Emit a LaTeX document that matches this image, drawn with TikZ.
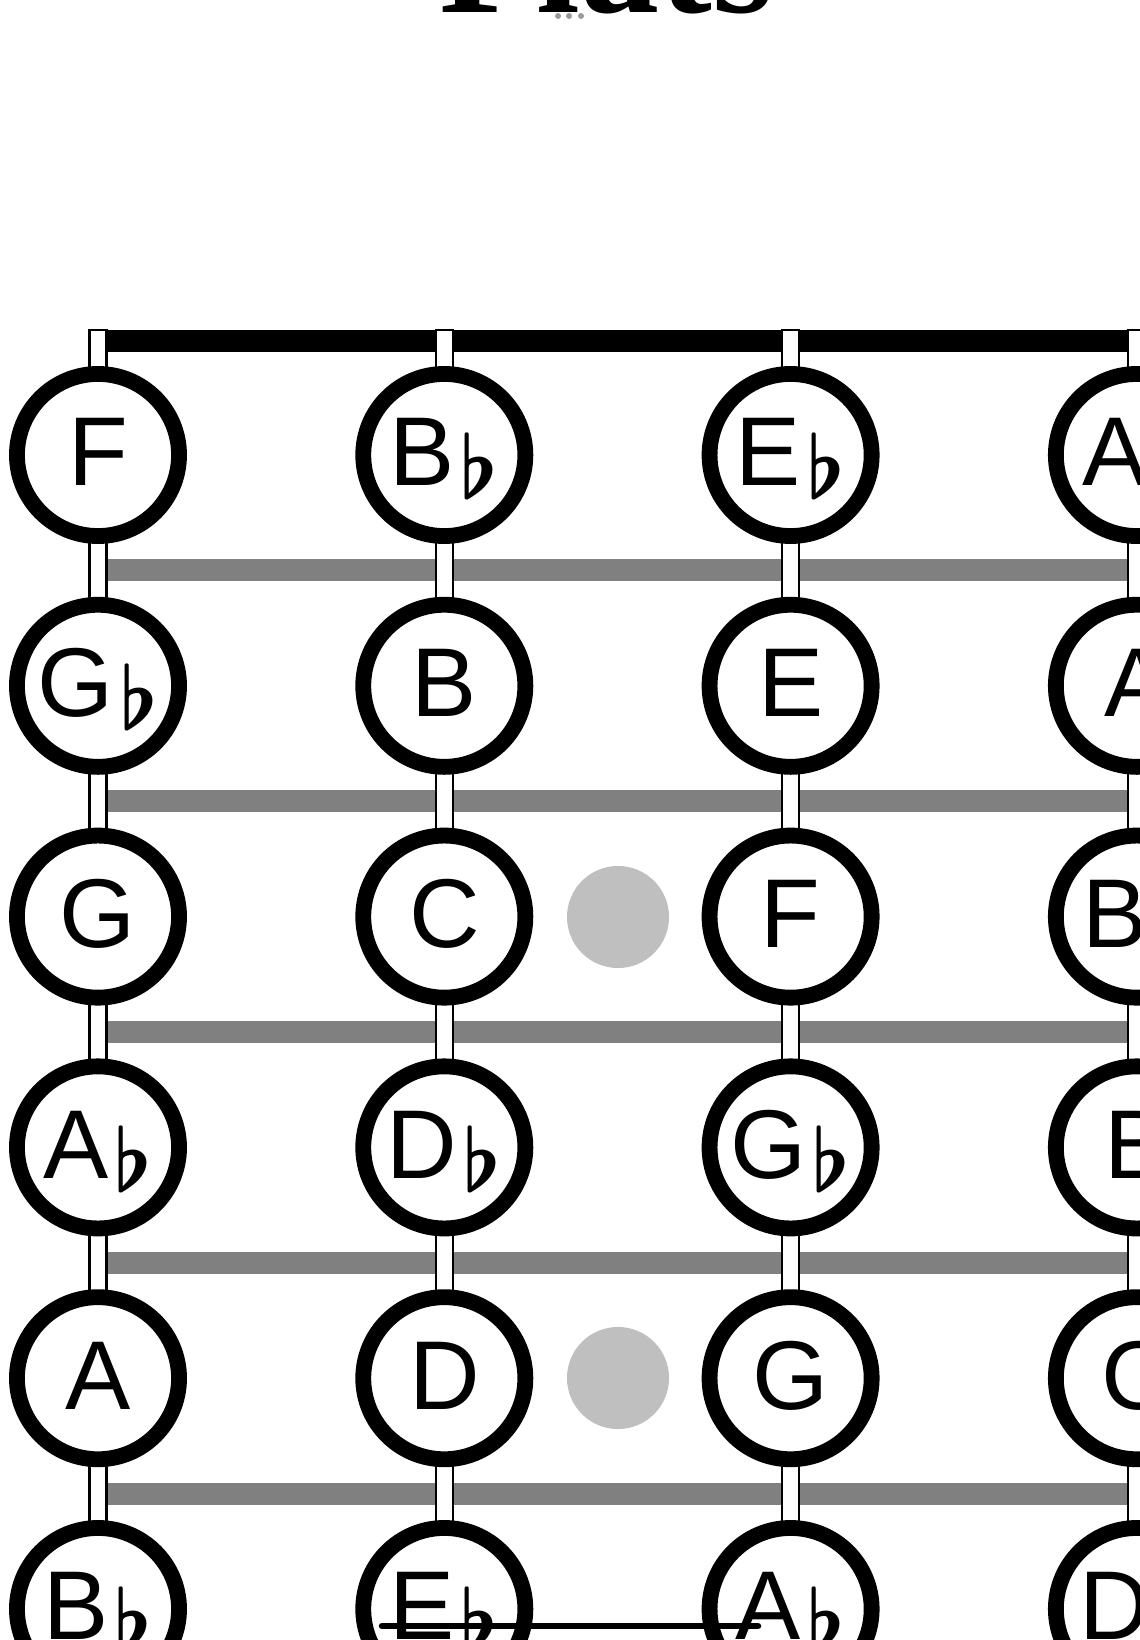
\documentclass[tikz,border=0pt]{standalone}
\usepackage{fontspec}
\usepackage{amsmath,amssymb}
\newfontfamily\notefont{Liberation Sans}
\newfontfamily\titlefont{Liberation Serif}
\newcommand{\flt}{\kern1.5pt\raisebox{-3.6pt}{$\boldsymbol{\flat}$}}
\tikzset{note/.style={circle,draw,line width=4.5pt,fill=white,minimum size=1.62cm,inner sep=0pt,
    font=\notefont\fontsize{27.8}{30}\selectfont,text height=17.6pt,text depth=0pt},
  gtrstring/.style={draw=black,line width=.6pt,fill=white},
  inlay/.style={circle,fill=black!25,minimum size=1.02cm,inner sep=0pt}}

\begin{document}
\begin{tikzpicture}[x=.01cm,y=-.01cm]
			\useasboundingbox (0,0) rectangle (1140,1640);
			\clip (0,0) rectangle (1140,1640);
			\node[font=\titlefont\bfseries\fontsize{45}{50}\selectfont,anchor=base] (title) at (607,13) {Flats};
			\foreach \x in {558,569,581} \fill[gray!80] (\x,16) circle (0.85pt);
			
			\fill (98,330) rectangle (1160,352);
			\foreach \j in {0,...,4} \fill[gray] (98,559.4+230.8*\j) rectangle (1160,581.4+230.8*\j);
			\foreach \i in {0,...,3} \filldraw[gtrstring] (89.5+346.3*\i,330) rectangle (106.5+346.3*\i,1660);
			
			\node[inlay] (dot3) at (618,917) {};
			\node[inlay] (dot5) at (618,1378) {};
			
			\foreach \row [count=\j from 0] in {{F,B\flt,E\flt,A\flt},{G\flt,B,E,A},{G,C,F,B\flt},
			    {A\flt,D\flt,G\flt,B},{A,D,G,C},{B\flt,E\flt,A\flt,D\flt}}
			  \foreach \nm [count=\i from 0] in \row
			    \node[note] (n\j\i) at (98+346.3*\i,455+230.8*\j) {\nm};
			
			\coordinate (u) at (382,1626); \coordinate (v) at (758,1626);
			\draw[line width=1.85pt,line cap=round] (u) -- (v);
\end{tikzpicture}
\end{document}
